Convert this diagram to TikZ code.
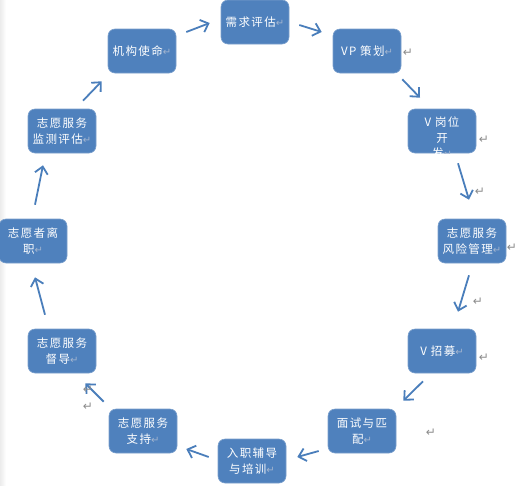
\documentclass[tikz,border=0pt]{standalone}
\usepackage{fontspec}
\newfontfamily\cjk[LetterSpace=12]{Noto Sans CJK SC}
\newfontfamily\sym{DejaVu Sans}
\usetikzlibrary{arrows.meta}
\definecolor{boxblue}{HTML}{4F81BD}
\definecolor{linkblue}{HTML}{4A7EBB}
\definecolor{markgray}{HTML}{8C8C8C}
\definecolor{inmark}{HTML}{A3B5CF}
\newcommand{\inret}{{\sym\color{inmark}\fontsize{10}{10}\selectfont ↵}}
\begin{document}
\begin{tikzpicture}[x=1pt, y=-1pt,
    box/.style={rounded corners=7pt, fill=boxblue, draw=boxblue!75!white, line width=0.6pt,
        minimum width=68pt, minimum height=44pt, inner sep=0pt},
    label/.style={text=white, align=center, inner sep=0pt, font=\cjk\fontsize{11.5}{15.5}\selectfont},
    flow/.style={draw=linkblue, line width=1.8pt, -{Straight Barb[length=7pt,width=13pt]}},
    retmark/.style={text=markgray, inner sep=0pt, font=\sym\fontsize{12}{12}\selectfont}]
    \useasboundingbox (0,0) rectangle (519,485);
    \fill[left color=gray!15, right color=white] (0,0) rectangle (6,485);
    % the twelve steps
    \node[box, label] (need) at (255,22) {需求评估\inret};
    \node[box, label] (plan) at (367,51) {VP 策划\inret};
    \node[box] (post) at (442,131) {};
    \node[box, label] (risk) at (472,241) {志愿服务\\风险管理\inret};
    \node[box, label] (recruit) at (442,351) {V 招募\inret};
    \node[box, label] (match) at (362,431) {面试与匹\\配\inret};
    \node[box, label] (induct) at (252,461) {入职辅导\\与培训\inret};
    \node[box, label] (support) at (143,431) {志愿服务\\支持\inret};
    \node[box, label] (supervise) at (62,351) {志愿服务\\督导\inret};
    \node[box, label] (leave) at (33,241) {志愿者离\\职\inret};
    \node[box, label] (monitor) at (62,131) {志愿服务\\监测评估\inret};
    \node[box, label] (mission) at (142,51) {机构使命\inret};
    \begin{scope}
        \clip[rounded corners=7pt] (post.south west) rectangle (post.north east);
        \node[label, anchor=north] (posttext) at ([shift={(0,8)}]post.north) {V 岗位\\开\\发\inret};
    \end{scope}
    % connectors
    \draw[flow] ([shift={(10,-19)}]mission.east) -- ([shift={(-11,1)}]need.west);
    \draw[flow] ([shift={(10,3)}]need.east) -- ([shift={(-11,-19)}]plan.west);
    \draw[flow] ([shift={(1,6)}]plan.south east) -- ([shift={(-22,-11)}]post.north);
    \draw[flow] ([shift={(16,10)}]post.south) -- ([shift={(-3,-19)}]risk.north);
    \draw[flow] ([shift={(-3,12)}]risk.south) -- ([shift={(16,-17)}]recruit.north);
    \draw[flow] ([shift={(-19,8)}]recruit.south) -- ([shift={(7,-8)}]match.north east);
    \draw[flow] ([shift={(-9,20)}]match.west) -- ([shift={(11,-4)}]induct.east);
    \draw[flow] ([shift={(-9,-4)}]induct.west) -- ([shift={(9,18)}]support.east);
    \draw[flow] ([shift={(-5,-7)}]support.north west) -- ([shift={(-11,10)}]supervise.south east);
    \draw[flow] ([shift={(-17,-14)}]supervise.north) -- ([shift={(2,14)}]leave.south);
    \draw[flow] ([shift={(2,-14)}]leave.north) -- ([shift={(-19,12)}]monitor.south);
    \draw[flow] ([shift={(21,-8)}]monitor.north) -- ([shift={(-6,8)}]mission.south west);
    % stray paragraph marks
    \node[retmark] (r1) at (408,53) {↵};
    \node[retmark] (r2) at (484,140) {↵};
    \node[retmark] (r3) at (480,192) {↵};
    \node[retmark] (r4) at (512,248) {↵};
    \node[retmark] (r5) at (478,302) {↵};
    \node[retmark] (r6) at (484,358) {↵};
    \node[retmark] (r7) at (431,433) {↵};
    \node[retmark] (r8) at (88,390) {↵};
    \node[retmark] (r9) at (88,407) {↵};
\end{tikzpicture}
\end{document}
